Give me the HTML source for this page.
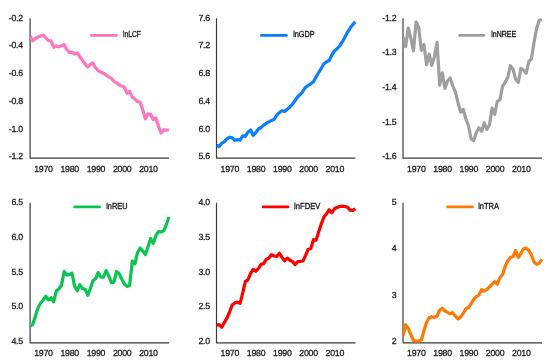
<!DOCTYPE html>
<html><head><meta charset="utf-8"><title>Time series plots</title>
<style>html,body{margin:0;padding:0;background:#fff}svg{display:block}</style></head>
<body>
<svg width="550" height="360" viewBox="0 0 550 360">
<rect width="550" height="360" fill="#fff"/>
<g font-family="Liberation Sans, sans-serif" font-size="8.8" fill="#141414" stroke="#141414" stroke-width="0.25" letter-spacing="-0.27" text-rendering="geometricPrecision">
<path d="M30.1 18.3V158.2H169.1" fill="none" stroke="#3c3c3c" stroke-width="1.2" stroke-linejoin="round"/>
<clipPath id="c00"><rect x="30.1" y="12.3" width="141.0" height="146.2"/></clipPath>
<polyline clip-path="url(#c00)" points="30.10,36.10 32.72,40.80 35.34,38.40 37.96,37.00 40.58,36.10 43.20,35.20 45.82,38.00 48.44,40.50 51.06,40.80 53.68,47.40 56.30,45.80 58.92,46.75 61.54,45.80 64.16,44.70 66.78,49.50 69.40,52.30 72.02,52.10 74.64,54.20 77.26,52.80 79.88,56.80 82.50,60.30 85.12,64.20 87.74,66.90 90.36,64.40 92.98,63.00 95.60,67.90 98.22,70.70 100.84,72.10 103.46,73.20 106.08,74.90 108.70,76.90 111.32,78.30 113.94,81.40 116.56,82.80 119.18,85.00 121.80,85.90 124.42,87.25 127.04,93.25 129.66,91.30 132.28,97.00 134.90,99.25 137.52,101.50 140.14,102.25 142.76,109.75 145.38,118.75 148.00,113.80 150.62,114.25 153.24,119.50 155.86,118.00 158.48,126.25 161.10,133.00 163.72,129.70 166.34,130.30 168.96,129.70" fill="none" stroke="#FF76BE" stroke-width="3.2" stroke-linejoin="round" stroke-linecap="butt"/>
<text x="22.9" y="20.55" text-anchor="end">-0.2</text>
<text x="22.9" y="48.33" text-anchor="end">-0.4</text>
<text x="22.9" y="76.11" text-anchor="end">-0.6</text>
<text x="22.9" y="103.89" text-anchor="end">-0.8</text>
<text x="22.9" y="131.67" text-anchor="end">-1.0</text>
<text x="22.9" y="159.45" text-anchor="end">-1.2</text>
<text x="43.4" y="171.90" text-anchor="middle">1970</text>
<text x="69.7" y="171.90" text-anchor="middle">1980</text>
<text x="95.9" y="171.90" text-anchor="middle">1990</text>
<text x="122.2" y="171.90" text-anchor="middle">2000</text>
<text x="148.4" y="171.90" text-anchor="middle">2010</text>
<line x1="91.3" y1="35.4" x2="116.5" y2="35.4" stroke="#FF76BE" stroke-width="2.7" stroke-linecap="round"/>
<text transform="translate(122.9 37.4) scale(0.780 1)" font-size="8.7" stroke-width="0.32" letter-spacing="0">lnLCF</text>
<path d="M216.5 18.3V158.2H355.5" fill="none" stroke="#3c3c3c" stroke-width="1.2" stroke-linejoin="round"/>
<clipPath id="c01"><rect x="216.5" y="12.3" width="141.0" height="146.2"/></clipPath>
<polyline clip-path="url(#c01)" points="216.50,145.10 219.12,146.50 221.74,143.30 224.36,141.70 226.98,138.90 229.60,137.20 232.22,137.80 234.84,140.30 237.46,139.60 240.08,140.30 242.70,135.80 245.32,136.40 247.94,132.20 250.56,129.90 253.18,135.40 255.80,132.60 258.42,129.00 261.04,127.50 263.66,125.10 266.28,123.30 268.90,121.80 271.52,120.45 274.14,119.25 276.76,115.20 279.38,112.50 282.00,110.70 284.62,111.45 287.24,109.20 289.86,106.95 292.48,104.25 295.10,100.50 297.72,96.75 300.34,94.40 302.96,91.20 305.58,87.20 308.20,85.40 310.82,83.80 313.44,81.80 316.06,76.90 318.68,72.50 321.30,68.30 323.92,63.75 326.54,61.70 329.16,60.60 331.78,55.00 334.40,51.00 337.02,48.70 339.64,46.00 342.26,42.00 344.88,37.20 347.50,32.30 350.12,28.10 352.74,24.70 355.36,21.90" fill="none" stroke="#0A7EFC" stroke-width="3.2" stroke-linejoin="round" stroke-linecap="butt"/>
<text x="209.9" y="20.55" text-anchor="end">7.6</text>
<text x="209.9" y="48.33" text-anchor="end">7.2</text>
<text x="209.9" y="76.11" text-anchor="end">6.8</text>
<text x="209.9" y="103.89" text-anchor="end">6.4</text>
<text x="209.9" y="131.67" text-anchor="end">6.0</text>
<text x="209.9" y="159.45" text-anchor="end">5.6</text>
<text x="229.8" y="171.90" text-anchor="middle">1970</text>
<text x="256.1" y="171.90" text-anchor="middle">1980</text>
<text x="282.3" y="171.90" text-anchor="middle">1990</text>
<text x="308.6" y="171.90" text-anchor="middle">2000</text>
<text x="334.8" y="171.90" text-anchor="middle">2010</text>
<line x1="261.4" y1="35.4" x2="286.5" y2="35.4" stroke="#0A7EFC" stroke-width="2.7" stroke-linecap="round"/>
<text transform="translate(293.2 37.4) scale(0.839 1)" font-size="8.7" stroke-width="0.32" letter-spacing="0">lnGDP</text>
<path d="M403.0 18.3V158.2H542.0" fill="none" stroke="#3c3c3c" stroke-width="1.2" stroke-linejoin="round"/>
<clipPath id="c02"><rect x="403.0" y="12.3" width="141.0" height="146.2"/></clipPath>
<polyline clip-path="url(#c02)" points="403.00,36.70 405.62,46.70 408.24,28.00 410.86,38.30 413.48,50.80 416.10,22.00 418.72,27.50 421.34,50.30 423.96,44.70 426.58,64.70 429.20,54.20 431.82,65.30 434.44,56.70 437.06,42.30 439.68,85.10 442.30,72.80 444.92,88.50 447.54,81.00 450.16,78.00 452.78,86.00 455.40,92.20 458.02,102.70 460.64,112.10 463.26,109.50 465.88,119.00 468.50,125.70 471.12,138.90 473.74,140.60 476.36,132.60 478.98,127.80 481.60,131.25 484.22,122.90 486.84,129.40 489.46,125.00 492.08,108.10 494.70,114.50 497.32,101.30 499.94,99.80 502.56,86.30 505.18,82.30 507.80,77.20 510.42,65.70 513.04,69.50 515.66,79.40 518.28,82.50 520.90,68.40 523.52,70.00 526.14,73.30 528.76,61.50 531.38,59.00 534.00,42.50 536.62,28.50 539.24,20.30 541.86,19.70" fill="none" stroke="#9F9F9F" stroke-width="3.2" stroke-linejoin="round" stroke-linecap="butt"/>
<text x="396.4" y="20.55" text-anchor="end">-1.2</text>
<text x="396.4" y="55.27" text-anchor="end">-1.3</text>
<text x="396.4" y="90.00" text-anchor="end">-1.4</text>
<text x="396.4" y="124.73" text-anchor="end">-1.5</text>
<text x="396.4" y="159.45" text-anchor="end">-1.6</text>
<text x="416.3" y="171.90" text-anchor="middle">1970</text>
<text x="442.6" y="171.90" text-anchor="middle">1980</text>
<text x="468.8" y="171.90" text-anchor="middle">1990</text>
<text x="495.1" y="171.90" text-anchor="middle">2000</text>
<text x="521.3" y="171.90" text-anchor="middle">2010</text>
<line x1="459.6" y1="35.4" x2="483.9" y2="35.4" stroke="#9F9F9F" stroke-width="2.7" stroke-linecap="round"/>
<text transform="translate(491.2 37.4) scale(0.808 1)" font-size="8.7" stroke-width="0.32" letter-spacing="0">lnNREE</text>
<path d="M30.1 202.7V342.8H169.1" fill="none" stroke="#3c3c3c" stroke-width="1.2" stroke-linejoin="round"/>
<clipPath id="c10"><rect x="30.1" y="196.7" width="141.0" height="146.4"/></clipPath>
<polyline clip-path="url(#c10)" points="30.10,326.00 32.72,324.60 35.34,316.25 37.96,307.90 40.58,303.00 43.20,300.00 45.82,296.10 48.44,300.00 51.06,297.80 53.68,301.80 56.30,291.00 58.92,288.80 61.54,285.30 64.16,271.40 66.78,275.00 69.40,274.60 72.02,273.20 74.64,286.40 77.26,290.60 79.88,284.70 82.50,288.50 85.12,289.20 87.74,295.40 90.36,288.50 92.98,280.70 95.60,278.60 98.22,272.50 100.84,277.20 103.46,277.10 106.08,270.60 108.70,275.70 111.32,282.60 113.94,282.20 116.56,271.50 119.18,273.60 121.80,279.20 124.42,284.00 127.04,286.40 129.66,285.40 132.28,261.10 134.90,263.90 137.52,252.50 140.14,248.00 142.76,251.00 145.38,254.70 148.00,246.80 150.62,238.50 153.24,243.30 155.86,235.70 158.48,231.50 161.10,231.90 163.72,230.80 166.34,224.60 168.96,217.00" fill="none" stroke="#08C552" stroke-width="3.2" stroke-linejoin="round" stroke-linecap="butt"/>
<text x="22.9" y="204.95" text-anchor="end">6.5</text>
<text x="22.9" y="239.72" text-anchor="end">6.0</text>
<text x="22.9" y="274.50" text-anchor="end">5.5</text>
<text x="22.9" y="309.27" text-anchor="end">5.0</text>
<text x="22.9" y="344.05" text-anchor="end">4.5</text>
<text x="43.4" y="356.45" text-anchor="middle">1970</text>
<text x="69.7" y="356.45" text-anchor="middle">1980</text>
<text x="95.9" y="356.45" text-anchor="middle">1990</text>
<text x="122.2" y="356.45" text-anchor="middle">2000</text>
<text x="148.4" y="356.45" text-anchor="middle">2010</text>
<line x1="74.6" y1="206.9" x2="99.6" y2="206.9" stroke="#08C552" stroke-width="2.7" stroke-linecap="round"/>
<text transform="translate(106.2 208.7) scale(0.847 1)" font-size="8.7" stroke-width="0.32" letter-spacing="0">lnREU</text>
<path d="M216.5 202.7V342.8H355.5" fill="none" stroke="#3c3c3c" stroke-width="1.2" stroke-linejoin="round"/>
<clipPath id="c11"><rect x="216.5" y="196.7" width="141.0" height="146.4"/></clipPath>
<polyline clip-path="url(#c11)" points="216.50,325.10 219.12,324.70 221.74,327.20 224.36,322.40 226.98,318.20 229.60,311.90 232.22,305.00 234.84,302.90 237.46,302.20 240.08,303.30 242.70,293.20 245.32,281.50 247.94,279.80 250.56,273.30 253.18,269.40 255.80,271.25 258.42,268.50 261.04,264.30 263.66,263.60 266.28,259.40 268.90,258.00 271.52,254.60 274.14,256.00 276.76,256.40 279.38,253.20 282.00,257.40 284.62,260.70 287.24,258.10 289.86,260.30 292.48,261.40 295.10,264.70 297.72,261.70 300.34,261.40 302.96,261.00 305.58,255.40 308.20,249.20 310.82,248.50 313.44,239.70 316.06,240.30 318.68,231.70 321.30,224.00 323.92,217.00 326.54,213.90 329.16,209.80 331.78,212.60 334.40,208.80 337.02,207.50 339.64,206.50 342.26,206.20 344.88,206.50 347.50,207.10 350.12,210.20 352.74,210.50 355.36,208.70" fill="none" stroke="#FF0000" stroke-width="3.2" stroke-linejoin="round" stroke-linecap="butt"/>
<text x="209.9" y="204.95" text-anchor="end">4.0</text>
<text x="209.9" y="239.72" text-anchor="end">3.5</text>
<text x="209.9" y="274.50" text-anchor="end">3.0</text>
<text x="209.9" y="309.27" text-anchor="end">2.5</text>
<text x="209.9" y="344.05" text-anchor="end">2.0</text>
<text x="229.8" y="356.45" text-anchor="middle">1970</text>
<text x="256.1" y="356.45" text-anchor="middle">1980</text>
<text x="282.3" y="356.45" text-anchor="middle">1990</text>
<text x="308.6" y="356.45" text-anchor="middle">2000</text>
<text x="334.8" y="356.45" text-anchor="middle">2010</text>
<line x1="263.1" y1="206.9" x2="288.0" y2="206.9" stroke="#FF0000" stroke-width="2.7" stroke-linecap="round"/>
<text transform="translate(294.1 208.7) scale(0.874 1)" font-size="8.7" stroke-width="0.32" letter-spacing="0">lnFDEV</text>
<path d="M403.0 202.7V342.8H542.0" fill="none" stroke="#3c3c3c" stroke-width="1.2" stroke-linejoin="round"/>
<clipPath id="c12"><rect x="403.0" y="196.7" width="141.0" height="146.4"/></clipPath>
<polyline clip-path="url(#c12)" points="403.00,336.10 405.62,324.70 408.24,328.50 410.86,334.70 413.48,340.50 416.10,341.00 418.72,341.00 421.34,340.00 423.96,330.80 426.58,322.20 429.20,317.80 431.82,316.70 434.44,317.40 437.06,316.00 439.68,310.00 442.30,308.20 444.92,310.80 447.54,312.40 450.16,313.75 452.78,312.60 455.40,316.10 458.02,318.90 460.64,317.20 463.26,313.30 465.88,308.90 468.50,307.50 471.12,303.60 473.74,299.40 476.36,296.70 478.98,295.00 481.60,289.70 484.22,291.30 486.84,289.50 489.46,287.00 492.08,284.40 494.70,281.70 497.32,284.20 499.94,277.50 502.56,274.70 505.18,266.30 507.80,260.70 510.42,257.40 513.04,256.50 515.66,250.50 518.28,257.40 520.90,253.50 523.52,248.70 526.14,248.20 528.76,250.30 531.38,255.00 534.00,262.00 536.62,264.40 539.24,263.10 541.86,259.40" fill="none" stroke="#FF7A05" stroke-width="3.2" stroke-linejoin="round" stroke-linecap="butt"/>
<text x="396.4" y="204.95" text-anchor="end">5</text>
<text x="396.4" y="251.32" text-anchor="end">4</text>
<text x="396.4" y="297.68" text-anchor="end">3</text>
<text x="396.4" y="344.05" text-anchor="end">2</text>
<text x="416.3" y="356.45" text-anchor="middle">1970</text>
<text x="442.6" y="356.45" text-anchor="middle">1980</text>
<text x="468.8" y="356.45" text-anchor="middle">1990</text>
<text x="495.1" y="356.45" text-anchor="middle">2000</text>
<text x="521.3" y="356.45" text-anchor="middle">2010</text>
<line x1="447.5" y1="206.9" x2="472.5" y2="206.9" stroke="#FF7A05" stroke-width="2.7" stroke-linecap="round"/>
<text transform="translate(478.2 208.7) scale(0.860 1)" font-size="8.7" stroke-width="0.32" letter-spacing="0">lnTRA</text>
</g></svg>
</body></html>
